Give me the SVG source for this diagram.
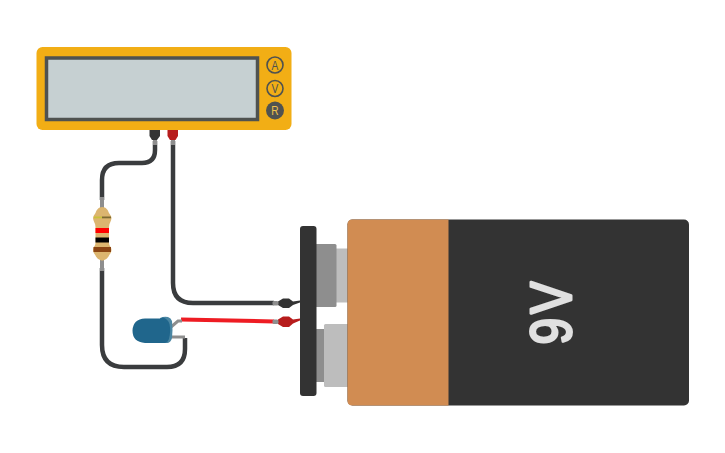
<svg xmlns="http://www.w3.org/2000/svg" width="725" height="453" viewBox="0 0 725 453">
<style>
.w{fill:none;stroke:#3a3c3e;stroke-width:4.500}
.btn{fill:none;stroke:#4f5250;stroke-width:1.600}
.bt{font-family:"Liberation Sans",Arial,sans-serif;font-size:12px;text-anchor:middle}
</style>
<rect width="725" height="453" fill="#ffffff"/>
<g id="connectors">
<path class="w" d="M155 141V150Q155 163 142 163H119Q102 163 102 180V200"/>
<path class="w" d="M173 141V283Q173 303 193 303H274"/>
<path class="w" d="M102 268V345Q102 367 124 367H167Q185 367 185 349V338"/>
<path fill="none" stroke="#ee1c23" stroke-width="4" d="M181 319.500L274 321.500"/>
</g>
<g id="meter">
<rect x="36.500" y="47" width="255" height="83" rx="6" fill="#f2ae15"/>
<rect x="46.500" y="58" width="211" height="61.500" fill="#c6d0d2" stroke="#4f5250" stroke-width="3.500"/>
<circle class="btn" cx="275" cy="65" r="8"/>
<text class="bt" transform="translate(275 69.500) scale(.85 1)" fill="#4f5250">A</text>
<circle class="btn" cx="275" cy="88.500" r="8"/>
<text class="bt" transform="translate(275 93) scale(.85 1)" fill="#4f5250">V</text>
<circle cx="275" cy="110.500" r="9" fill="#4f5250"/>
<text class="bt" transform="translate(275 115) scale(.85 1)" fill="#f2c14e">R</text>
</g>
<g id="probe-black">
<path d="M149.500 130H160V136L157 140H152L149.500 136Z" fill="#333333"/>
<rect x="153" y="140" width="4" height="5" fill="#8e8e8e"/>
</g>
<g id="probe-red">
<path d="M167.500 130H178V136L175.500 140H170L167.500 136Z" fill="#b71c1c"/>
<rect x="171" y="140" width="4" height="5" fill="#8e8e8e"/>
</g>
<g id="resistor">
<path d="M102 197V210M102 258V271" stroke="#8e8e8e" stroke-width="4" fill="none"/>
<path d="M102.300 207C106 207 108 210 109 213C110 215 111.500 216 111.500 218C111.500 221 109 223 109 227V243C109 246 111.500 247 111.500 250C111.500 252 110 254 109 255.500C108 258 105 260.500 102.300 260.500C99.500 260.500 96.500 258 95.500 255.500C94.500 254 93 252 93 250C93 247 95.500 246 95.500 243V227C95.500 223 93 221 93 218C93 216 94.500 215 95.500 213C96.500 210 98.500 207 102.300 207Z" fill="#dcb56f"/>
<rect x="94" y="216.500" width="8" height="1.800" fill="#c9c23a"/>
<rect x="102" y="216.500" width="9" height="1.800" fill="#7d6a32"/>
<rect x="95.500" y="228" width="13.500" height="5" fill="#ff0000"/>
<rect x="95.500" y="237.500" width="13.500" height="5" fill="#000000"/>
<rect x="93.500" y="247" width="17.500" height="5" fill="#8b4513"/>
</g>
<g id="led">
<path d="M171 327L178 321H182" fill="none" stroke="#8e8e8e" stroke-width="3"/>
<path d="M171 337H185" fill="none" stroke="#8e8e8e" stroke-width="3"/>
<path d="M160 318Q164 316 168 317Q171 318 172 321Q173 330 172 338Q171 342 168 343L160 343Z" fill="#4a86a3"/>
<path d="M145 318.500H160L163 317.500Q168 319 169.500 324Q171 331 169 339Q168 342 165 343H145Q132.500 342 132.500 330.500Q133 319 145 318.500Z" fill="#20668c"/>
</g>
<g id="clip-black">
<path d="M278 301.500L283 298.500H289L293 301.500L300 300.500V302.500L293 305L289 308H283L278 305Z" fill="#333333"/>
<rect x="272.500" y="301" width="6" height="4.500" rx="1.500" fill="#8e8e8e"/>
</g>
<g id="clip-red">
<path d="M278 319.500L283 316.500H289L293 319.500L300 318.500V320.500L293 323.500L289 327H283L278 324Z" fill="#b71c1c"/>
<rect x="272.500" y="319.500" width="6" height="4.500" rx="1.500" fill="#8e8e8e"/>
</g>
<g id="battery">
<rect x="336" y="248.500" width="14" height="54" fill="#bdbdbd"/>
<rect x="314" y="244" width="22.500" height="63" rx="1.500" fill="#8e8e8e"/>
<rect x="314" y="329" width="12" height="53" fill="#8e8e8e"/>
<rect x="324" y="324" width="26" height="63" rx="1.500" fill="#bdbdbd"/>
<rect x="300" y="226" width="16.500" height="170" rx="3" fill="#333333"/>
<rect x="347.500" y="219.500" width="341.500" height="186" rx="5" fill="#333333"/>
<path d="M448.500 219.500H352.500Q347.500 219.500 347.500 224.500V400.500Q347.500 405.500 352.500 405.500H448.500Z" fill="#d18c52"/>
<text transform="translate(570.500 344.500) rotate(-90) scale(0.8 .97)" font-family="'Liberation Sans',Arial,sans-serif" font-size="60" letter-spacing="5" fill="#e0e0e0" stroke="#e0e0e0" stroke-width="3" stroke-linejoin="round">9V</text>
</g>
</svg>
